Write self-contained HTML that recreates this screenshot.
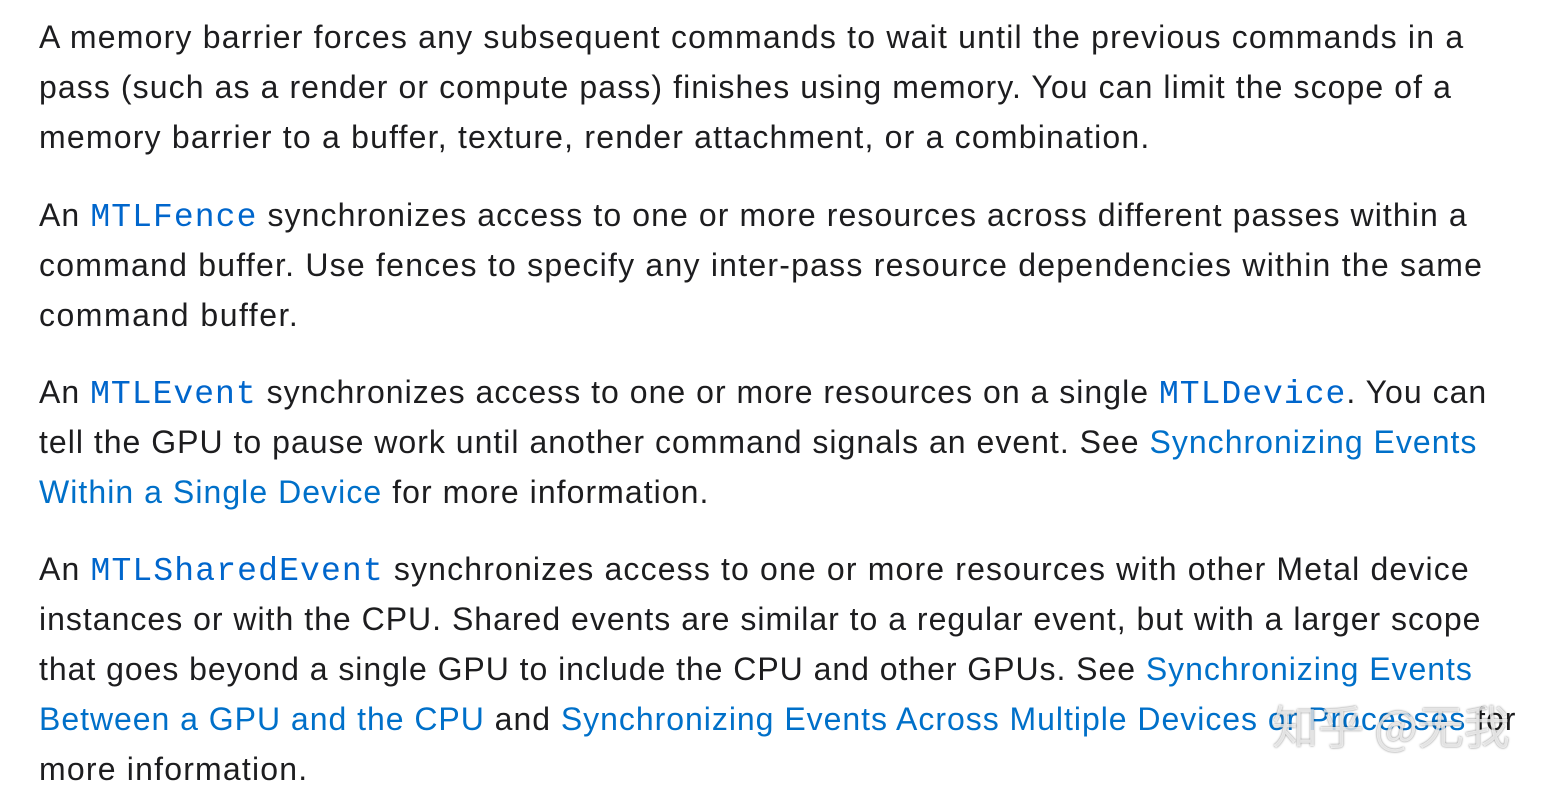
<!DOCTYPE html>
<html><head><meta charset="utf-8"><style>
html,body{margin:0;padding:0;background:#fff;width:1556px;height:788px;overflow:hidden;position:relative}
.l{position:absolute;left:39px;white-space:nowrap;font-family:"Liberation Sans",sans-serif;font-size:32px;letter-spacing:1.2px;line-height:50px;color:#1d1d1f}
.c{font-family:"Liberation Mono",monospace;font-size:33px;color:#0066cc}
.a{color:#0070c9}
.wm{position:absolute;left:1272px;top:692px;font-family:"Noto Sans CJK SC",sans-serif;font-size:46px;color:rgba(255,255,255,0.75);text-shadow:0 0 2px rgba(0,0,0,0.5);white-space:nowrap}
</style></head><body>
<div class="l" style="top:12px">A memory barrier forces any subsequent commands to wait until the previous commands in a</div>
<div class="l" style="top:62px;letter-spacing:1.09px">pass (such as a render or compute pass) finishes using memory. You can limit the scope of a</div>
<div class="l" style="top:112px">memory barrier to a buffer, texture, render attachment, or a combination.</div>
<div class="l" style="top:190px;letter-spacing:1.09px">An <span class="c">MTLFence</span> synchronizes access to one or more resources across different passes within a</div>
<div class="l" style="top:240px;letter-spacing:1.23px">command buffer. Use fences to specify any inter-pass resource dependencies within the same</div>
<div class="l" style="top:290px;letter-spacing:1.5px">command buffer.</div>
<div class="l" style="top:367px;letter-spacing:1.02px">An <span class="c">MTLEvent</span> synchronizes access to one or more resources on a single <span class="c">MTLDevice</span>. You can</div>
<div class="l" style="top:417px;letter-spacing:1.01px">tell the GPU to pause work until another command signals an event. See <span class="a">Synchronizing Events</span></div>
<div class="l" style="top:467px;letter-spacing:1.05px"><span class="a">Within a Single Device</span> for more information.</div>
<div class="l" style="top:544px;letter-spacing:1.15px">An <span class="c">MTLSharedEvent</span> synchronizes access to one or more resources with other Metal device</div>
<div class="l" style="top:594px;letter-spacing:1.0px">instances or with the CPU. Shared events are similar to a regular event, but with a larger scope</div>
<div class="l" style="top:644px;letter-spacing:0.96px">that goes beyond a single GPU to include the CPU and other GPUs. See <span class="a">Synchronizing Events</span></div>
<div class="l" style="top:694px;letter-spacing:0.97px"><span class="a">Between a GPU and the CPU</span> and <span class="a">Synchronizing Events Across Multiple Devices or Processes</span> for</div>
<div class="l" style="top:744px">more information.</div>
<div class="wm">知乎 @无我</div>
</body></html>
